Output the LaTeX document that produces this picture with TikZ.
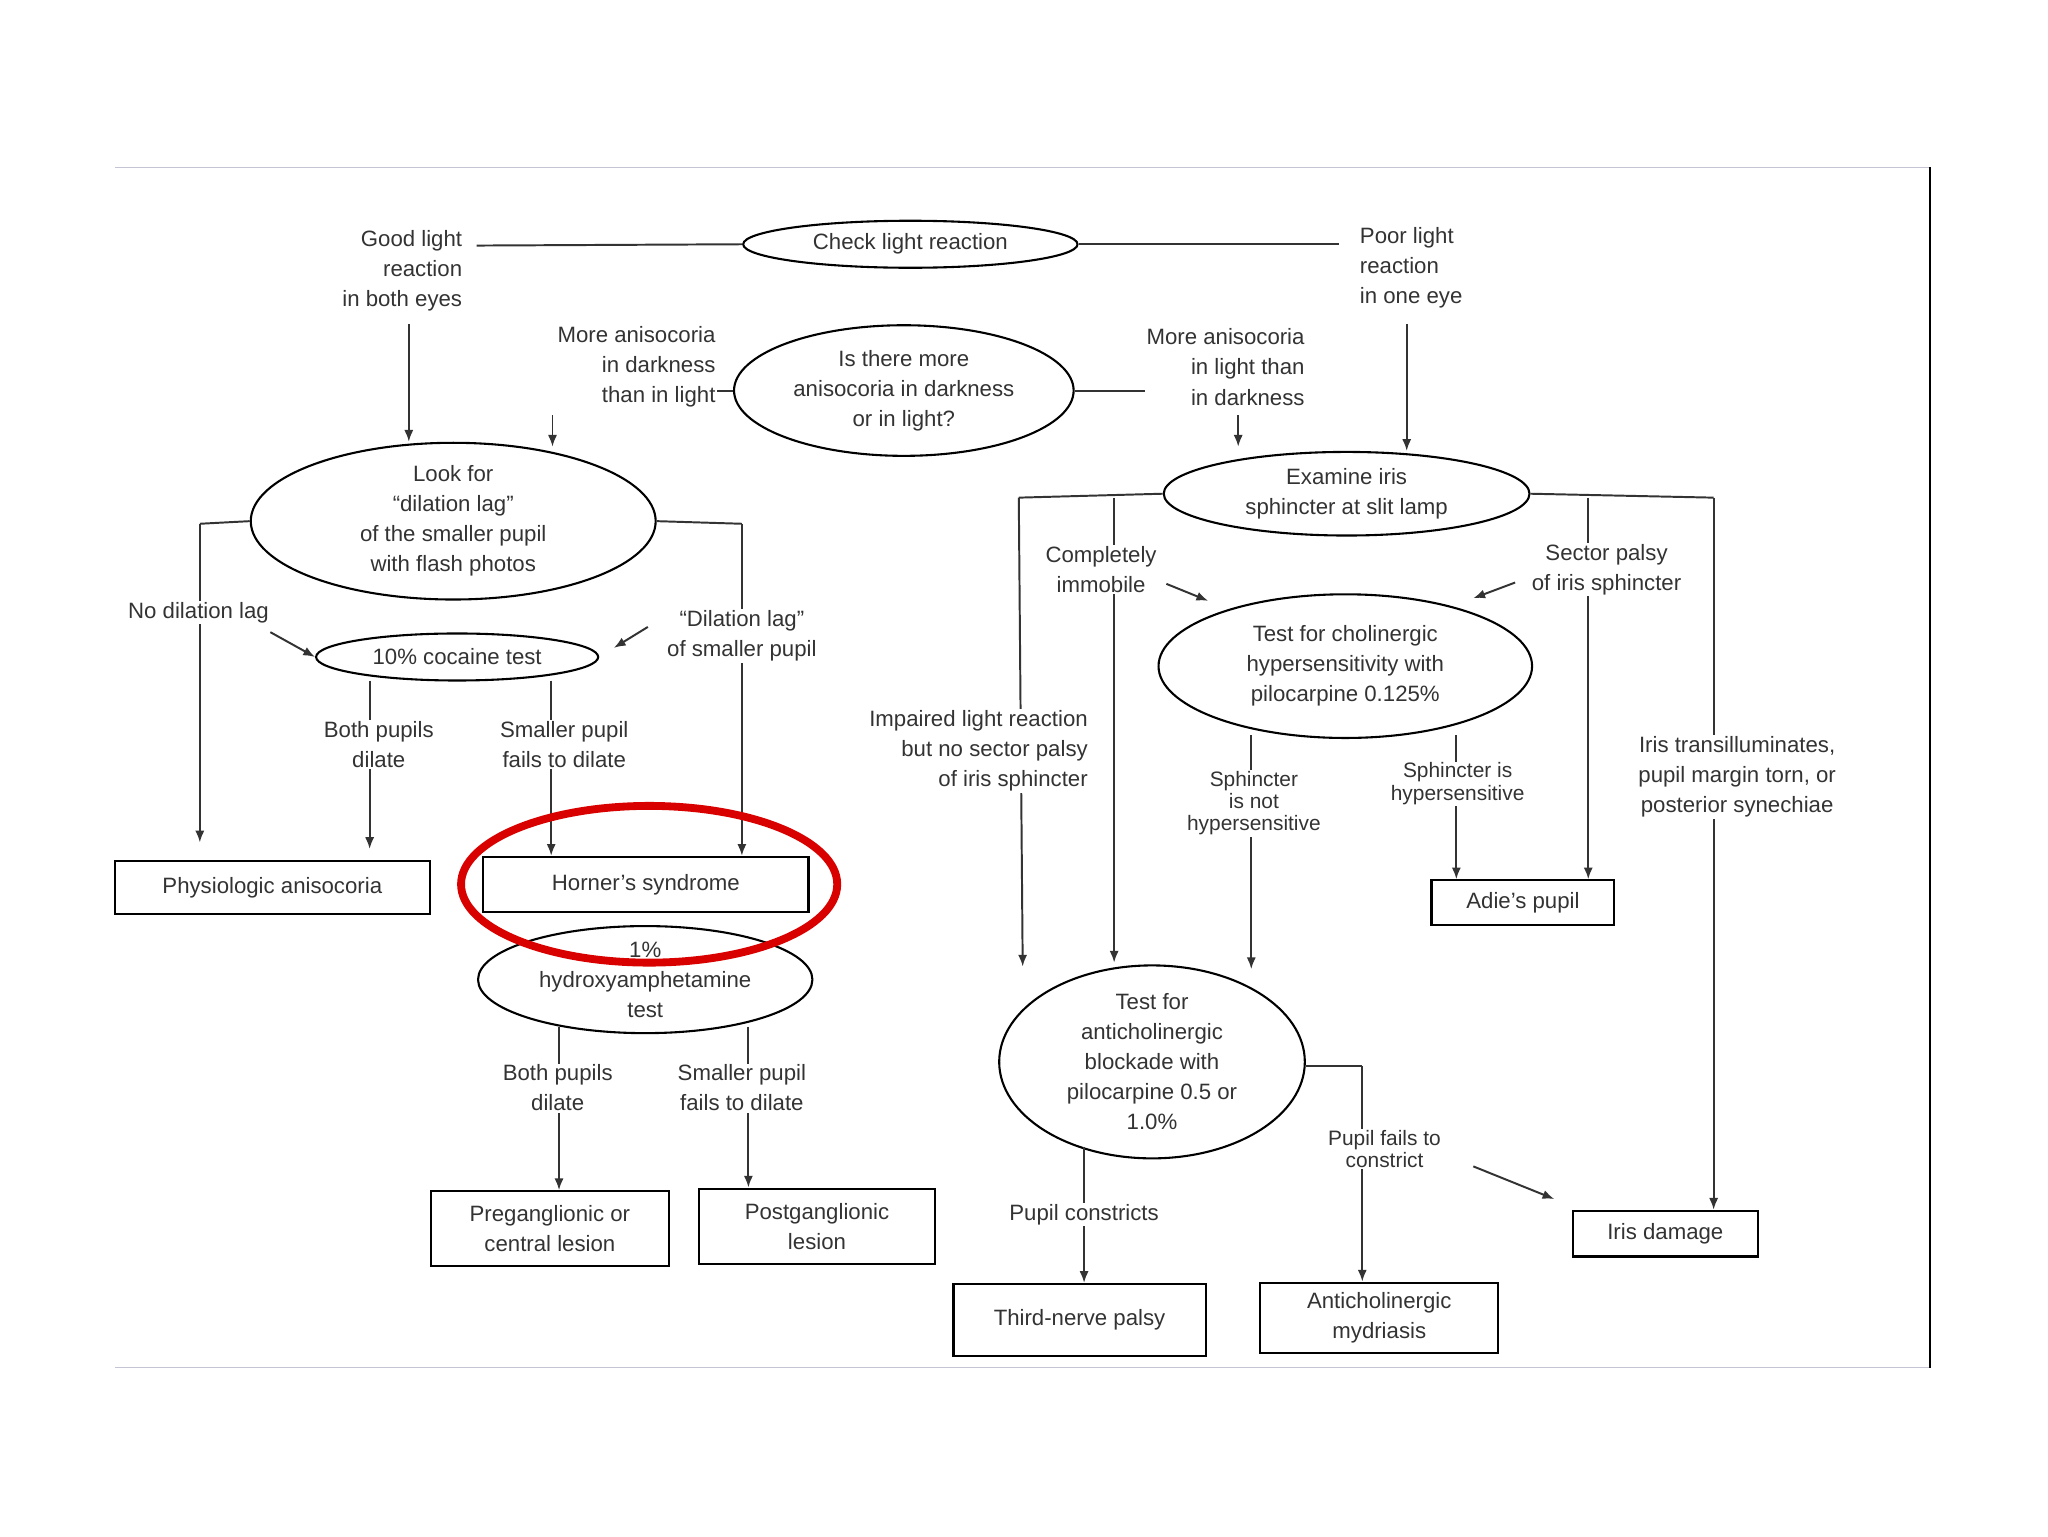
\documentclass[tikz,border=0pt]{standalone}
\usepackage{fontspec}
\setmainfont{Liberation Sans}
\usetikzlibrary{shapes.geometric,arrows.meta}
\begin{document}
\begin{tikzpicture}[x=1pt,y=-1pt,
  every node/.style={font=\fontsize{17}{23}\selectfont, text=black!80},
  ell/.style={draw, ellipse, line width=1.6pt, inner sep=0pt, align=center},
  box/.style={draw, rectangle, line width=1.6pt, align=center, inner sep=0pt},
  lab/.style={align=center, inner sep=1pt, fill=white},
  tight/.style={font=\fontsize{16}{17}\selectfont},
  ln/.style={line width=1.5pt, black!80},
  ar/.style={ln, -{Latex[length=9pt,width=7pt]}}]
\useasboundingbox (0,0) rectangle (1568,1176);
\fill[white] (0,0) rectangle (1568,1176);
\draw[blue!15!gray!40, line width=1pt] (88,128) -- (1478,128);
\draw[blue!15!gray!40, line width=1pt] (88,1047) -- (1478,1047);
\draw[black, line width=1.5pt] (1478,128) -- (1478,1047);

% ---------- shapes
\node[ell, minimum width=256, minimum height=36] (chk) at (697,187) {Check light reaction};
\node[ell, minimum width=260, minimum height=100] (more) at (692,299) {Is there more\\anisocoria in darkness\\or in light?};
\node[ell, minimum width=310, minimum height=114] (look) at (347,399) {Look for\\``dilation lag''\\of the smaller pupil\\with flash photos};
\node[box, minimum width=241, minimum height=41] (phys) at (208.5,679.5) {Physiologic anisocoria};
\node[box, minimum width=249, minimum height=42] (horn) at (494.5,677) {Horner's syndrome};
\node[ell, minimum width=216, minimum height=36] (coc) at (350,503) {10\% cocaine test};
\node[ell, minimum width=256, minimum height=76] (hyd) at (494,750) {1\%\\hydroxyamphetamine\\test};
\node[box, minimum width=182, minimum height=57] (pre) at (421,940.5) {Preganglionic or\\central lesion};
\node[box, minimum width=181, minimum height=58] (post) at (625.5,939) {Postganglionic\\lesion};
\node[ell, minimum width=280, minimum height=64] (iris) at (1031,378) {Examine iris\\sphincter at slit lamp};
\node[ell, minimum width=234, minimum height=140] (anti) at (882,813) {Test for\\anticholinergic\\blockade with\\pilocarpine 0.5 or\\1.0\%};
\node[ell, minimum width=286, minimum height=110] (chol) at (1030,510) {Test for cholinergic\\hypersensitivity with\\pilocarpine 0.125\%};
\node[box, minimum width=140, minimum height=34] (adie) at (1166,691) {Adie's pupil};
\node[box, minimum width=142, minimum height=35] (dmg) at (1275,944.5) {Iris damage};
\node[box, minimum width=193, minimum height=55] (third) at (826.5,1010.5) {Third-nerve palsy};
\node[box, minimum width=182, minimum height=54] (mydr) at (1056,1009) {Anticholinergic\\mydriasis};

% ---------- connectors
\draw[ln] (chk.west) -- (365,188);
\draw[ln] (chk.east) -- (1025,187);
\draw[ln] (more.west) -- (522,299);
\draw[ln] (more.east) -- (880,299);
\draw[ar] (313,248) -- (look.north -| 313,0);
\draw[ar] (423,318) -- (423,342);
\draw[ln] (look.west) -- (153,401);
\draw[ar] (153,401) -- (153,645);
\draw[ln] (look.east) -- (568,401);
\draw[ar] (568,401) -- (horn.north -| 568,0);
\draw[ar] (207,484) -- (coc.west);
\draw[ar] (496,480) -- (470,496);
\draw[ar] (283,521) -- (283,650);
\draw[ar] (422,521) -- (horn.north -| 422,0);
\draw[ar] (428,786) -- (pre.north -| 428,0);
\draw[ar] (573,786) -- (post.north -| 573,0);
\draw[ar] (1077,248) -- (iris.north -| 1077,0);
\draw[ar] (948,318) -- (948,342);
\draw[ln] (iris.west) -- (780,381);
\draw[ar] (780,381) -- (783,740);
\draw[ar] (853,381) -- (853,737);
\draw[ln] (iris.east) -- (1312,381);
\draw[ar] (1312,381) -- (dmg.north -| 1312,0);
\draw[ar] (1216,381) -- (adie.north -| 1216,0);
\draw[ar] (893,447) -- (925,460);
\draw[ar] (1160,446) -- (1128,458);
\draw[ar] (958,563) -- (958,742);
\draw[ar] (1115,563) -- (adie.north -| 1115,0);
\draw[ln] (anti.east |- 0,816) -- (1043,816);
\draw[ar] (1043,816) -- (mydr.north -| 1043,0);
\draw[ar] (1128,893) -- (1190,918);
\draw[ar] (830,878) -- (third.north -| 830,0);
\draw[red!85!black, line width=6pt] (497,677) ellipse [x radius=144, y radius=60];

% ---------- labels
\node[lab, align=right, anchor=east] (good) at (355,207) {Good light\\reaction\\in both eyes};
\node[lab, align=left, anchor=west] (poor) at (1040,205) {Poor light\\reaction\\in one eye};
\node[lab, align=right, anchor=east] (dark) at (549,281) {More anisocoria\\in darkness\\than in light};
\node[lab, align=right, anchor=east] (light) at (1000,281) {More anisocoria\\in light than\\in darkness};
\node[lab] (nolag) at (152,469) {No dilation lag};
\node[lab] (dlag) at (568,487) {``Dilation lag''\\of smaller pupil};
\node[lab] at (290,570) {Both pupils\\dilate};
\node[lab] at (432,570) {Smaller pupil\\fails to dilate};
\node[lab] at (427,833) {Both pupils\\dilate};
\node[lab] at (568,833) {Smaller pupil\\fails to dilate};
\node[lab] at (843,436) {Completely\\immobile};
\node[lab] at (1230,436) {Sector palsy\\of iris sphincter};
\node[lab, align=right, anchor=east] at (834,575) {Impaired light reaction\\but no sector palsy\\of iris sphincter};
\node[lab, tight] at (960,615) {Sphincter\\is not\\hypersensitive};
\node[lab, tight] at (1116,600) {Sphincter is\\hypersensitive};
\node[lab] at (1330,595) {Iris transilluminates,\\pupil margin torn, or\\posterior synechiae};
\node[lab, tight] at (1060,880) {Pupil fails to\\constrict};
\node[lab] at (830,930) {Pupil constricts};
\end{tikzpicture}
\end{document}
